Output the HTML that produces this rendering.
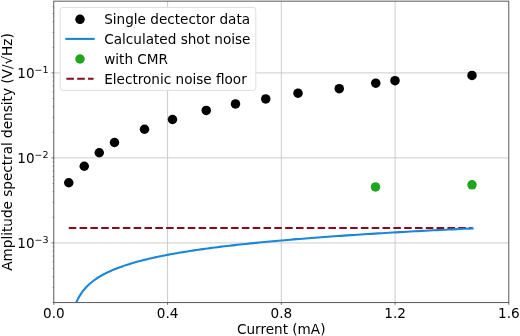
<!DOCTYPE html>
<html><head><meta charset="utf-8"><title>Amplitude spectral density</title>
<style>
html,body{margin:0;padding:0;background:#fff;}
svg{display:block;font-family:"DejaVu Sans","Liberation Sans",sans-serif;font-size:13.6px;fill:#000;}
</style></head><body>
<svg width="520" height="336" viewBox="0 0 520 336">
<rect width="520" height="336" fill="#fff"/>
<defs><clipPath id="ax"><rect x="53.8" y="1.15" width="455.0" height="301.45000000000005"/></clipPath></defs>

<g stroke="#c0c0c0" stroke-width="0.8" fill="none">
<line x1="167.56" y1="1.15" x2="167.56" y2="302.6"/>
<line x1="281.32" y1="1.15" x2="281.32" y2="302.6"/>
<line x1="395.08" y1="1.15" x2="395.08" y2="302.6"/>
<line x1="53.8" y1="72.90" x2="508.8" y2="72.90"/>
<line x1="53.8" y1="157.90" x2="508.8" y2="157.90"/>
<line x1="53.8" y1="242.90" x2="508.8" y2="242.90"/>
</g>
<g clip-path="url(#ax)">
<line x1="68.75" y1="227.9" x2="472.5" y2="227.9" stroke="#8b0a1a" stroke-width="2.05" stroke-dasharray="7.54 3.28"/>
<path d="M70.36,329.09 L70.49,327.85 L70.64,326.52 L70.82,325.11 L71.01,323.65 L71.22,322.16 L71.45,320.65 L71.70,319.14 L71.97,317.63 L72.26,316.14 L72.58,314.66 L72.91,313.21 L73.26,311.78 L73.63,310.38 L74.03,309.01 L74.44,307.67 L74.87,306.35 L75.32,305.07 L75.80,303.82 L76.29,302.60 L76.80,301.41 L77.34,300.24 L77.89,299.11 L78.46,298.00 L79.06,296.91 L79.67,295.86 L80.30,294.82 L80.96,293.81 L81.63,292.82 L82.33,291.86 L83.04,290.91 L83.78,289.99 L84.53,289.08 L85.31,288.20 L86.10,287.33 L86.92,286.48 L87.75,285.65 L88.61,284.83 L89.48,284.03 L90.38,283.25 L91.29,282.48 L92.23,281.72 L93.18,280.98 L94.16,280.25 L95.16,279.54 L96.17,278.83 L97.21,278.14 L98.27,277.46 L99.34,276.80 L100.44,276.14 L101.56,275.49 L102.69,274.86 L103.85,274.23 L105.03,273.62 L106.22,273.01 L107.44,272.41 L108.68,271.83 L109.94,271.25 L111.22,270.68 L112.51,270.11 L113.83,269.56 L115.17,269.01 L116.53,268.47 L117.91,267.94 L119.31,267.41 L120.73,266.90 L122.16,266.39 L123.62,265.88 L125.10,265.38 L126.60,264.89 L128.12,264.41 L129.66,263.93 L131.22,263.45 L132.80,262.98 L134.40,262.52 L136.02,262.07 L137.66,261.61 L139.32,261.17 L141.00,260.73 L142.70,260.29 L144.42,259.86 L146.16,259.43 L147.92,259.01 L149.71,258.59 L151.51,258.18 L153.33,257.77 L155.17,257.37 L157.03,256.97 L158.91,256.57 L160.81,256.18 L162.74,255.79 L164.68,255.41 L166.64,255.03 L168.62,254.65 L170.62,254.28 L172.65,253.91 L174.69,253.55 L176.75,253.18 L178.84,252.83 L180.94,252.47 L183.06,252.12 L185.21,251.77 L187.37,251.42 L189.55,251.08 L191.76,250.74 L193.98,250.41 L196.22,250.07 L198.49,249.74 L200.77,249.41 L203.08,249.09 L205.40,248.77 L207.75,248.45 L210.11,248.13 L212.50,247.82 L214.90,247.50 L217.33,247.19 L219.77,246.89 L222.24,246.58 L224.72,246.28 L227.23,245.98 L229.75,245.69 L232.30,245.39 L234.86,245.10 L237.45,244.81 L240.06,244.52 L242.68,244.23 L245.33,243.95 L248.00,243.67 L250.68,243.39 L253.39,243.11 L256.12,242.84 L258.86,242.56 L261.63,242.29 L264.42,242.02 L267.22,241.75 L270.05,241.49 L272.90,241.22 L275.77,240.96 L278.66,240.70 L281.56,240.44 L284.49,240.18 L287.44,239.93 L290.41,239.68 L293.40,239.42 L296.41,239.17 L299.44,238.93 L302.48,238.68 L305.55,238.43 L308.64,238.19 L311.75,237.95 L314.88,237.71 L318.03,237.47 L321.20,237.23 L324.39,236.99 L327.60,236.76 L330.83,236.53 L334.08,236.29 L337.35,236.06 L340.64,235.84 L343.95,235.61 L347.28,235.38 L350.63,235.16 L354.00,234.93 L357.40,234.71 L360.81,234.49 L364.24,234.27 L367.69,234.05 L371.16,233.83 L374.65,233.62 L378.16,233.40 L381.70,233.19 L385.25,232.98 L388.82,232.77 L392.41,232.56 L396.03,232.35 L399.66,232.14 L403.31,231.93 L406.98,231.73 L410.68,231.52 L414.39,231.32 L418.12,231.12 L421.88,230.92 L425.65,230.72 L429.44,230.52 L433.26,230.32 L437.09,230.12 L440.94,229.93 L444.82,229.73 L448.71,229.54 L452.63,229.35 L456.56,229.16 L460.52,228.97 L464.49,228.78 L468.49,228.59 L472.50,228.40" fill="none" stroke="#1a86d8" stroke-width="2.1" stroke-linecap="square" stroke-linejoin="round"/>
<circle cx="68.75" cy="182.75" r="4.75" fill="#000"/>
<circle cx="84.25" cy="166.25" r="4.75" fill="#000"/>
<circle cx="99.25" cy="152.75" r="4.75" fill="#000"/>
<circle cx="114.5" cy="142.5" r="4.75" fill="#000"/>
<circle cx="144.5" cy="129.25" r="4.75" fill="#000"/>
<circle cx="172.5" cy="119.5" r="4.75" fill="#000"/>
<circle cx="206.25" cy="110.4" r="4.75" fill="#000"/>
<circle cx="235.5" cy="103.9" r="4.75" fill="#000"/>
<circle cx="265.75" cy="98.9" r="4.75" fill="#000"/>
<circle cx="298" cy="93.15" r="4.75" fill="#000"/>
<circle cx="339.25" cy="88.65" r="4.75" fill="#000"/>
<circle cx="375.75" cy="83.15" r="4.75" fill="#000"/>
<circle cx="395" cy="80.65" r="4.75" fill="#000"/>
<circle cx="472" cy="75.4" r="4.75" fill="#000"/>
<circle cx="375.5" cy="186.9" r="4.75" fill="#1fa51f"/>
<circle cx="472" cy="184.8" r="4.75" fill="#1fa51f"/>
</g>
<g stroke="#484848" stroke-width="0.8" fill="none">
<line x1="53.80" y1="302.6" x2="53.80" y2="304.8"/>
<line x1="167.56" y1="302.6" x2="167.56" y2="304.8"/>
<line x1="281.32" y1="302.6" x2="281.32" y2="304.8"/>
<line x1="395.08" y1="302.6" x2="395.08" y2="304.8"/>
<line x1="508.84" y1="302.6" x2="508.84" y2="304.8"/>
<line x1="51.599999999999994" y1="72.90" x2="53.8" y2="72.90"/>
<line x1="51.599999999999994" y1="157.90" x2="53.8" y2="157.90"/>
<line x1="51.599999999999994" y1="242.90" x2="53.8" y2="242.90"/>
<line x1="52.599999999999994" y1="47.31" x2="53.8" y2="47.31" stroke-width="0.6"/>
<line x1="52.599999999999994" y1="32.34" x2="53.8" y2="32.34" stroke-width="0.6"/>
<line x1="52.599999999999994" y1="21.72" x2="53.8" y2="21.72" stroke-width="0.6"/>
<line x1="52.599999999999994" y1="13.49" x2="53.8" y2="13.49" stroke-width="0.6"/>
<line x1="52.599999999999994" y1="6.76" x2="53.8" y2="6.76" stroke-width="0.6"/>
<line x1="52.599999999999994" y1="132.31" x2="53.8" y2="132.31" stroke-width="0.6"/>
<line x1="52.599999999999994" y1="117.34" x2="53.8" y2="117.34" stroke-width="0.6"/>
<line x1="52.599999999999994" y1="106.72" x2="53.8" y2="106.72" stroke-width="0.6"/>
<line x1="52.599999999999994" y1="98.49" x2="53.8" y2="98.49" stroke-width="0.6"/>
<line x1="52.599999999999994" y1="91.76" x2="53.8" y2="91.76" stroke-width="0.6"/>
<line x1="52.599999999999994" y1="86.07" x2="53.8" y2="86.07" stroke-width="0.6"/>
<line x1="52.599999999999994" y1="81.14" x2="53.8" y2="81.14" stroke-width="0.6"/>
<line x1="52.599999999999994" y1="76.79" x2="53.8" y2="76.79" stroke-width="0.6"/>
<line x1="52.599999999999994" y1="217.31" x2="53.8" y2="217.31" stroke-width="0.6"/>
<line x1="52.599999999999994" y1="202.34" x2="53.8" y2="202.34" stroke-width="0.6"/>
<line x1="52.599999999999994" y1="191.72" x2="53.8" y2="191.72" stroke-width="0.6"/>
<line x1="52.599999999999994" y1="183.49" x2="53.8" y2="183.49" stroke-width="0.6"/>
<line x1="52.599999999999994" y1="176.76" x2="53.8" y2="176.76" stroke-width="0.6"/>
<line x1="52.599999999999994" y1="171.07" x2="53.8" y2="171.07" stroke-width="0.6"/>
<line x1="52.599999999999994" y1="166.14" x2="53.8" y2="166.14" stroke-width="0.6"/>
<line x1="52.599999999999994" y1="161.79" x2="53.8" y2="161.79" stroke-width="0.6"/>
<line x1="52.599999999999994" y1="302.31" x2="53.8" y2="302.31" stroke-width="0.6"/>
<line x1="52.599999999999994" y1="287.34" x2="53.8" y2="287.34" stroke-width="0.6"/>
<line x1="52.599999999999994" y1="276.72" x2="53.8" y2="276.72" stroke-width="0.6"/>
<line x1="52.599999999999994" y1="268.49" x2="53.8" y2="268.49" stroke-width="0.6"/>
<line x1="52.599999999999994" y1="261.76" x2="53.8" y2="261.76" stroke-width="0.6"/>
<line x1="52.599999999999994" y1="256.07" x2="53.8" y2="256.07" stroke-width="0.6"/>
<line x1="52.599999999999994" y1="251.14" x2="53.8" y2="251.14" stroke-width="0.6"/>
<line x1="52.599999999999994" y1="246.79" x2="53.8" y2="246.79" stroke-width="0.6"/>
</g>
<rect x="53.8" y="1.15" width="455.0" height="301.45000000000005" fill="none" stroke="#484848" stroke-width="0.9"/>
<text x="53.80" y="317.9" text-anchor="middle">0.0</text>
<text x="167.56" y="317.9" text-anchor="middle">0.4</text>
<text x="281.32" y="317.9" text-anchor="middle">0.8</text>
<text x="395.08" y="317.9" text-anchor="middle">1.2</text>
<text x="508.84" y="317.9" text-anchor="middle">1.6</text>
<text x="48.6" y="77.90" text-anchor="end">10<tspan font-size="9.52" dy="-5.1">−1</tspan></text>
<text x="48.6" y="162.90" text-anchor="end">10<tspan font-size="9.52" dy="-5.1">−2</tspan></text>
<text x="48.6" y="247.90" text-anchor="end">10<tspan font-size="9.52" dy="-5.1">−3</tspan></text>
<text x="281.2" y="333.6" text-anchor="middle">Current (mA)</text>
<text transform="translate(12.3,152.0) rotate(-90)" text-anchor="middle">Amplitude spectral density (V/√Hz)</text>
<rect x="60.2" y="7.4" width="195.6" height="83.0" rx="2.6" ry="2.6" fill="#fff" fill-opacity="0.92" stroke="#dedede" stroke-width="1"/>
<circle cx="80.0" cy="19.3" r="4.75" fill="#000"/>
<text x="104.2" y="24.200000000000003">Single dectector data</text>
<line x1="66.4" y1="38.9" x2="93.6" y2="38.9" stroke="#1a86d8" stroke-width="2.1" stroke-linecap="square"/>
<text x="104.2" y="43.8">Calculated shot noise</text>
<circle cx="80.0" cy="59.0" r="4.75" fill="#1fa51f"/>
<text x="104.2" y="63.9">with CMR</text>
<line x1="66.4" y1="78.8" x2="93.6" y2="78.8" stroke="#8b0a1a" stroke-width="2.05" stroke-dasharray="7.54 3.28"/>
<text x="104.2" y="83.7">Electronic noise floor</text>
</svg></body></html>
